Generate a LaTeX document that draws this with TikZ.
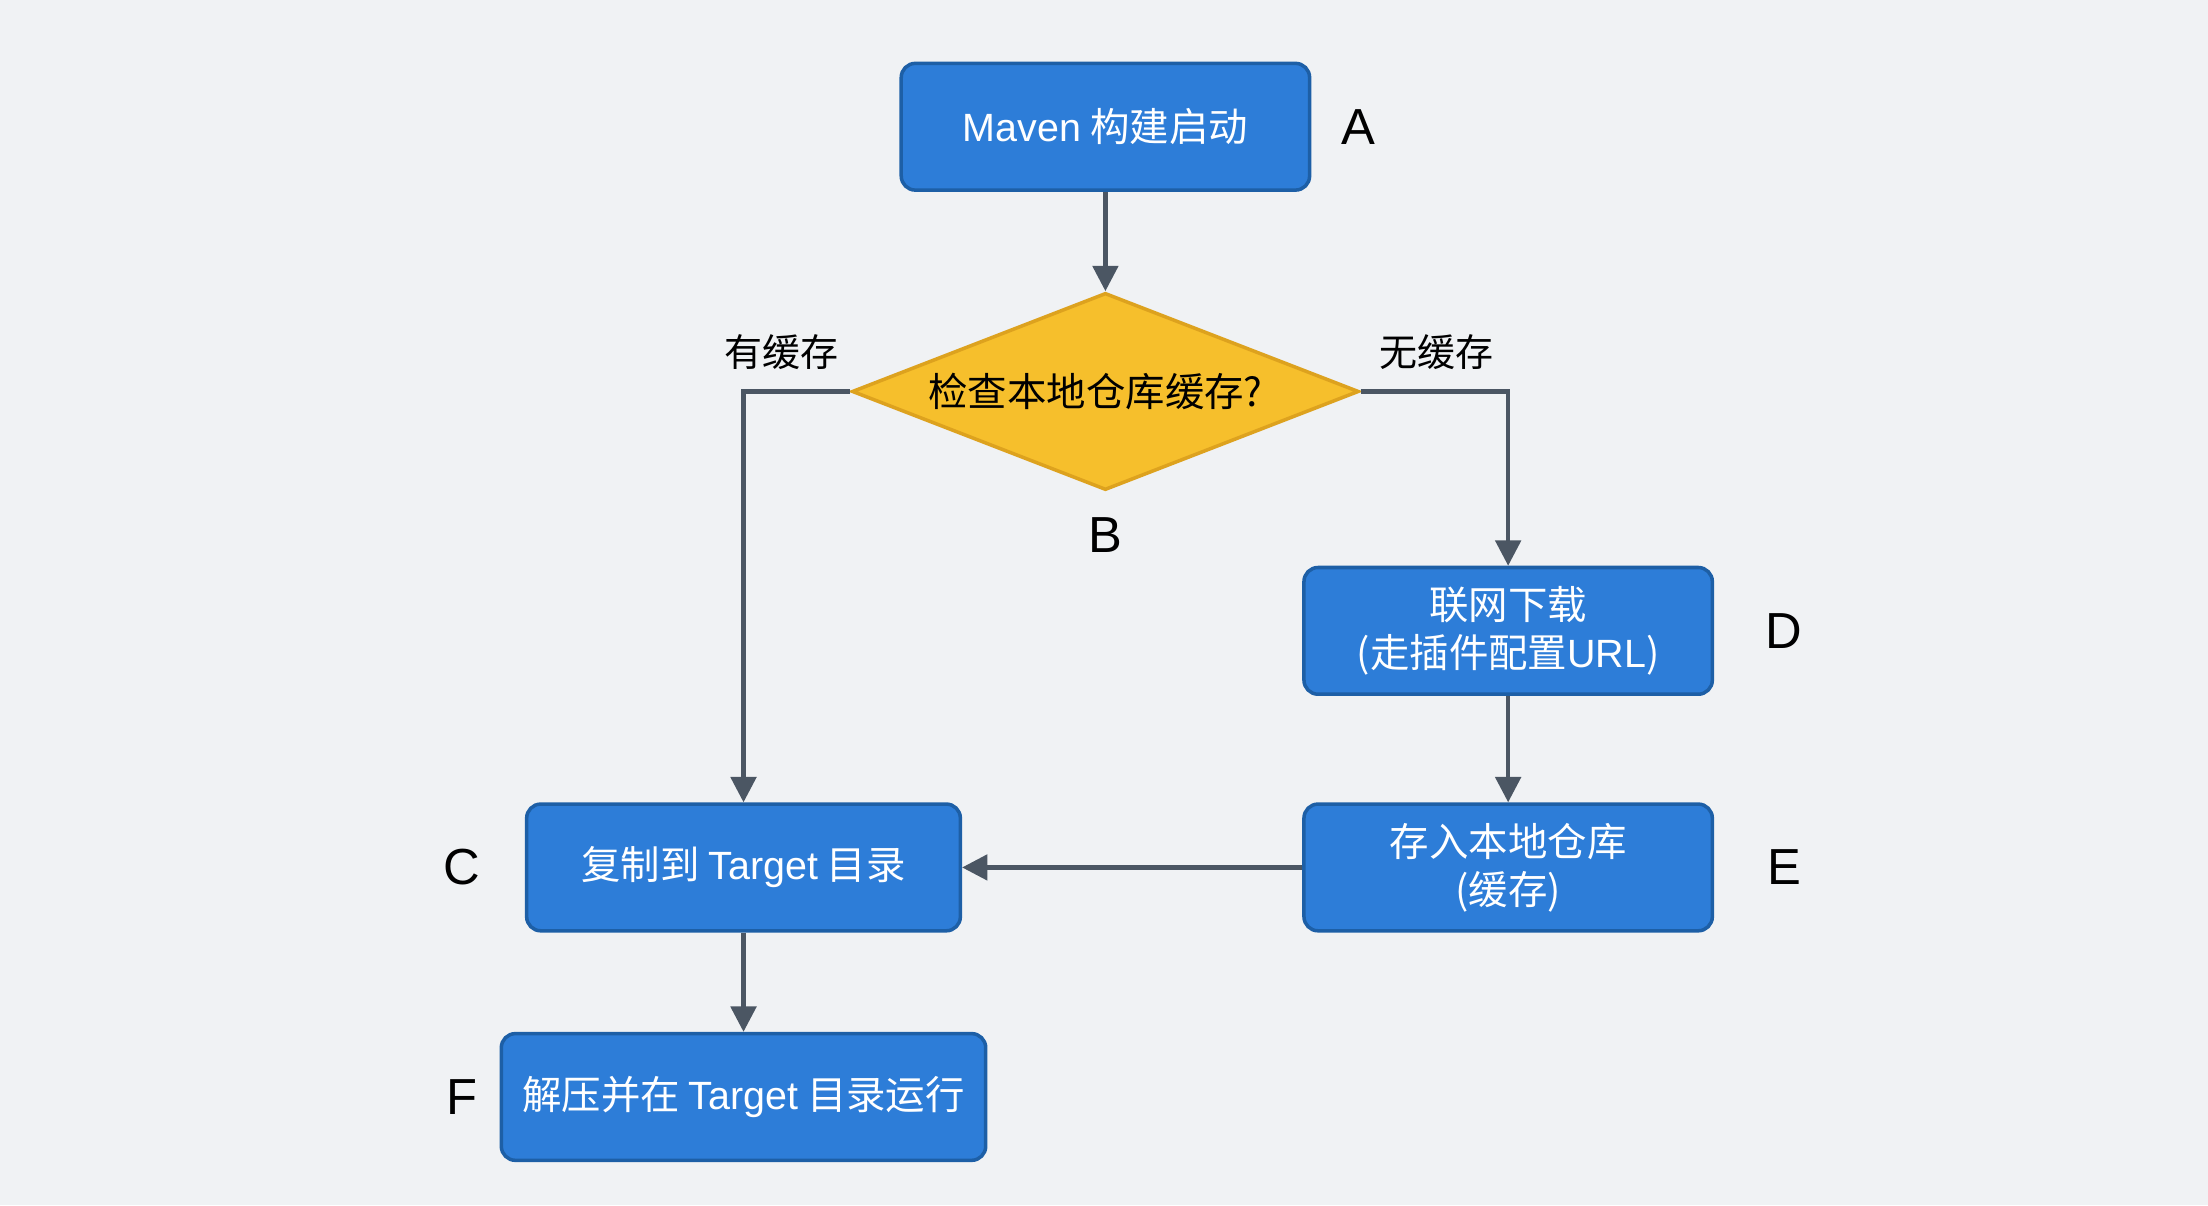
\documentclass[tikz,border=0pt]{standalone}
\usepackage{fontspec}
\setmainfont{Noto Sans CJK SC}
\newfontfamily\latinf{Liberation Sans}
\usetikzlibrary{shapes.geometric,arrows.meta}
\definecolor{bg}{HTML}{F0F2F4}
\definecolor{bfill}{HTML}{2D7DD8}
\definecolor{bdraw}{HTML}{1D5FA6}
\definecolor{yfill}{HTML}{F6BF2C}
\definecolor{ydraw}{HTML}{DDA21E}
\definecolor{arr}{HTML}{4B5663}
\tikzset{
 bbox/.style={draw=bdraw,fill=bfill,line width=2.5pt,rounded corners=10pt,text=white,font=\fontsize{28}{34}\selectfont,align=center,inner sep=0pt},
 lab/.style={font=\latinf\fontsize{36}{40}\selectfont},
 clab/.style={font=\fontsize{27}{32}\selectfont},
 conn/.style={draw=arr,line width=3pt,-{Triangle[length=18pt,width=18pt]}}
}
\begin{document}
\begin{tikzpicture}[x=1pt,y=-1pt]
\fill[bg] (0,0) rectangle (1568,856);
\useasboundingbox (0,0) rectangle (1568,856);
\node[bbox,minimum width=290pt,minimum height=90pt] (A) at (785,90) {{\latinf Maven} 构建启动};
\node[diamond,draw=ydraw,fill=yfill,line width=2.5pt,minimum width=360pt,minimum height=140pt,inner sep=0pt] (B) at (785,278) {};
\node[font=\fontsize{28}{34}\selectfont] (Bt) at (778,278) {检查本地仓库缓存?};
\node[bbox,minimum width=290pt,minimum height=90pt] (D) at (1071,448) {联网下载\\(走插件配置{\latinf URL})};
\node[bbox,minimum width=290pt,minimum height=90pt] (E) at (1071,616) {存入本地仓库\\(缓存)};
\node[bbox,minimum width=308pt,minimum height=90pt] (C) at (528,616) {复制到 {\latinf Target} 目录};
\node[bbox,minimum width=344pt,minimum height=90pt] (F) at (528,779) {解压并在 {\latinf Target} 目录运行};
\node[lab] (lA) at (965,90) {A};
\node[lab] (lB) at (785,380) {B};
\node[lab] (lC) at (328,616) {C};
\node[lab] (lD) at (1267,448) {D};
\node[lab] (lE) at (1267,616) {E};
\node[lab] (lF) at (328,779) {F};
\node[clab] (yes) at (555,250) {有缓存};
\node[clab] (no) at (1020,250) {无缓存};
\draw[conn] (A) -- (B.north);
\draw[conn] (B.west) -| (C.north);
\draw[conn] (B.east) -| (D.north);
\draw[conn] (D) -- (E);
\draw[conn] (E) -- (C);
\draw[conn] (C) -- (F);
\end{tikzpicture}
\end{document}
